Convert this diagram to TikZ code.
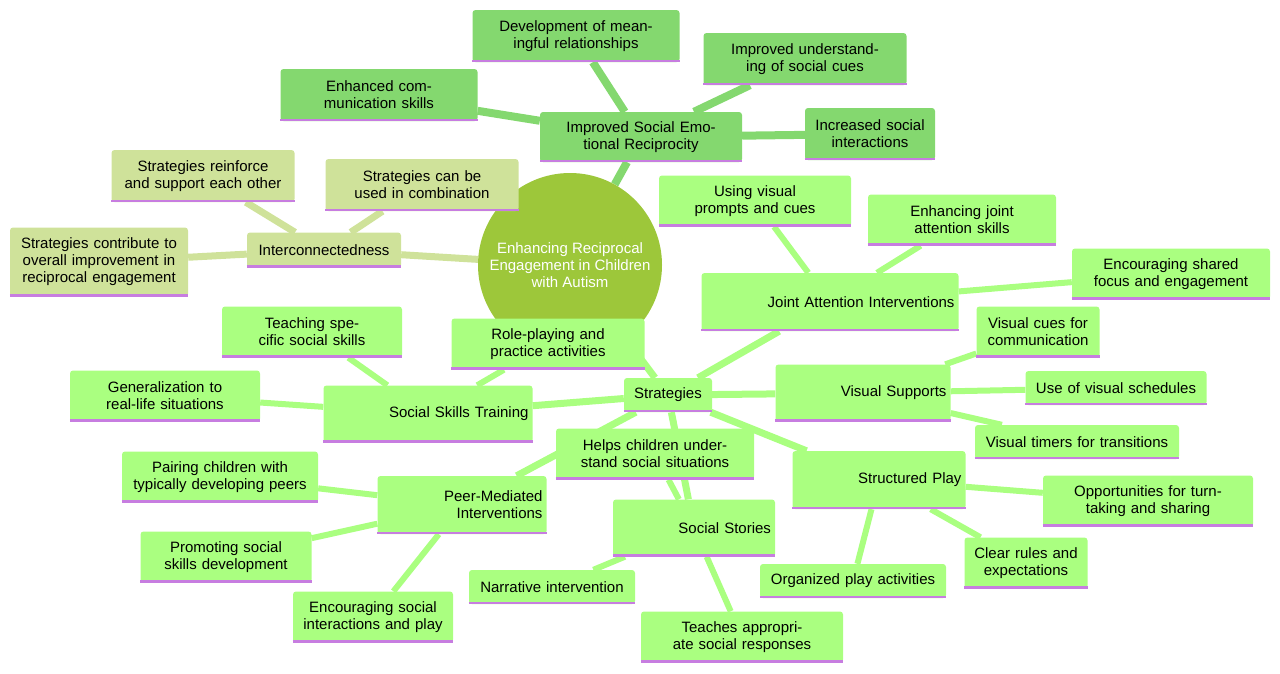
\documentclass[tikz,border=0pt]{standalone}
\usepackage{fontspec}
\setmainfont{Liberation Sans}
\definecolor{cRoot}{HTML}{9DC73A}
\definecolor{cA}{HTML}{84D86F}
\definecolor{cB}{HTML}{CFE29A}
\definecolor{cC}{HTML}{AAFF80}
\definecolor{cP}{HTML}{C77DE0}
\pgfdeclarelayer{bg}\pgfsetlayers{bg,main}
\begin{document}
\begin{tikzpicture}[x=1pt,y=-1pt,
  bx/.style n args={3}{rectangle,rounded corners=3pt,inner sep=4pt,minimum width=#1,minimum height=#2,text width=#1-8pt,align=#3,font=\fontsize{15}{17}\selectfont},
  b/.style 2 args={bx={#1}{#2}{center}},
  br/.style 2 args={bx={#1}{#2}{right}},
  eA/.style={cA,line width=8pt},
  eB/.style={cB,line width=7pt},
  eC/.style={cC,line width=7pt},
  eCs/.style={cC,line width=6pt}]
\useasboundingbox (0,0) rectangle (1280,673);
\node[circle,fill=cRoot,minimum size=184pt,text=white,align=center,font=\fontsize{15}{17}\selectfont] (root) at (570,265) {Enhancing Reciprocal\\Engagement in Children\\with Autism};
% branch A
\node[b={202}{50},fill=cA] (iser) at (641,137) {Improved Social Emotional Reciprocity};
\node[b={207}{52},fill=cA] (dev) at (576,36) {Development of meaningful relationships};
\node[b={203}{52},fill=cA] (und) at (805,59) {Improved understanding of social cues};
\node[b={197}{52},fill=cA] (enh) at (379,95) {Enhanced communication skills};
\node[b={130}{52},fill=cA] (inc) at (870,134) {Increased social interactions};
% branch B
\node[b={154}{35},fill=cB] (int) at (324,250) {Interconnectedness};
\node[b={183}{52},fill=cB] (rei) at (203,176) {Strategies reinforce and support each other};
\node[b={193}{52},fill=cB] (com) at (422,185) {Strategies can be used in combination};
\node[b={178}{69},fill=cB] (con) at (99,262) {Strategies contribute to overall improvement in reciprocal engagement};
% branch C
\node[b={88}{34},fill=cC] (str) at (668,395) {Strategies};
\node[br={257}{58},fill=cC] (ja) at (830,302) {Joint Attention Interventions};
\node[b={192}{51},fill=cC] (ja1) at (755,201) {Using visual prompts and cues};
\node[b={188}{51},fill=cC] (ja2) at (962,220) {Enhancing joint attention skills};
\node[b={198}{51},fill=cC] (ja3) at (1171,274) {Encouraging shared focus and engagement};
\node[br={175}{57},fill=cC] (vs) at (863,393) {Visual Supports};
\node[b={123}{51},fill=cC] (vs1) at (1038,332) {Visual cues for communication};
\node[b={181}{34},fill=cC] (vs2) at (1116,388) {Use of visual schedules};
\node[b={204}{34},fill=cC] (vs3) at (1077,442) {Visual timers for transitions};
\node[br={173}{58},fill=cC] (sp) at (879,480) {Structured Play};
\node[b={210}{51},fill=cC] (sp1) at (1148,501) {Opportunities for turn-taking and sharing};
\node[b={123}{51},fill=cC] (sp2) at (1026,563) {Clear rules and expectations};
\node[b={186}{34},fill=cC] (sp3) at (853,581) {Organized play activities};
\node[br={162}{57},fill=cC] (ss) at (694,528) {Social Stories};
\node[b={166}{34},fill=cC] (ss1) at (552,587) {Narrative intervention};
\node[b={202}{51},fill=cC] (ss2) at (742,637) {Teaches appropriate social responses};
\node[b={198}{51},fill=cC] (ss3) at (655,454) {Helps children understand social situations};
\node[br={169}{58},fill=cC] (pm) at (462,505) {Peer-Mediated Interventions};
\node[b={196}{51},fill=cC] (pm1) at (220,477) {Pairing children with typically developing peers};
\node[b={171}{51},fill=cC] (pm2) at (226,557) {Promoting social skills development};
\node[b={160}{51},fill=cC] (pm3) at (373,617) {Encouraging social interactions and play};
\node[br={209}{57},fill=cC] (sst) at (428,414) {Social Skills Training};
\node[b={180}{51},fill=cC] (sst1) at (312,332) {Teaching specific social skills};
\node[b={190}{51},fill=cC] (sst2) at (165,396) {Generalization to real-life situations};
\node[b={193}{51},fill=cC] (sst3) at (548,344) {Role-playing and practice activities};
\foreach \n in {iser,dev,und,enh,inc,int,rei,com,con,str,ja,ja1,ja2,ja3,vs,vs1,vs2,vs3,sp,sp1,sp2,sp3,ss,ss1,ss2,ss3,pm,pm1,pm2,pm3,sst,sst1,sst2,sst3}
  \draw[cP,line width=2.5pt] ([yshift=1.2pt]\n.south west) -- ([yshift=1.2pt]\n.south east);
\begin{pgfonlayer}{bg}
\draw[eA] (root) -- (iser);
\foreach \n in {dev,und,enh,inc} \draw[eA] (iser) -- (\n);
\draw[eB] (root) -- (int);
\foreach \n in {rei,com,con} \draw[eB] (int) -- (\n);
\draw[eC] (root) -- (str);
\foreach \n in {ja,vs,sp,ss,pm,sst} \draw[eC] (str) -- (\n);
\foreach \n in {ja1,ja2,ja3} \draw[eCs] (ja) -- (\n);
\foreach \n in {vs1,vs2,vs3} \draw[eCs] (vs) -- (\n);
\foreach \n in {sp1,sp2,sp3} \draw[eCs] (sp) -- (\n);
\foreach \n in {ss1,ss2,ss3} \draw[eCs] (ss) -- (\n);
\foreach \n in {pm1,pm2,pm3} \draw[eCs] (pm) -- (\n);
\foreach \n in {sst1,sst2,sst3} \draw[eCs] (sst) -- (\n);
\end{pgfonlayer}
\end{tikzpicture}
\end{document}
